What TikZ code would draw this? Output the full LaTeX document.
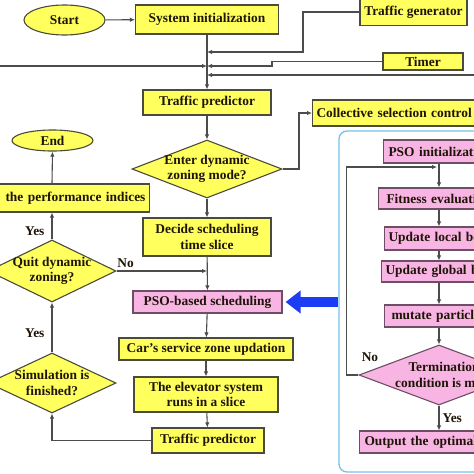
\documentclass[tikz,border=0pt]{standalone}
\usepackage{fontspec}
\setmainfont{Liberation Serif}
\usetikzlibrary{shapes.geometric, arrows.meta, positioning}
\definecolor{boxyellow}{HTML}{FFFF5E}
\definecolor{boxpink}{HTML}{F8B4E2}
\definecolor{boxline}{HTML}{4B4B3C}
\definecolor{pinkline}{HTML}{6E4E64}
\definecolor{panelblue}{HTML}{72C2EC}
\definecolor{arrblue}{HTML}{1F3CF5}
\definecolor{txtdark}{HTML}{1E1408}

\begin{document}
\begin{tikzpicture}[x=1pt,y=1pt,yscale=-1,xscale=1,
  every node/.style={font=\bfseries\fontsize{13.4}{15.5}\selectfont, text=txtdark},
  ybox/.style={draw=boxline, line width=1.1pt, fill=boxyellow, inner sep=0pt, align=center},
  pbox/.style={draw=pinkline, line width=1.1pt, fill=boxpink, inner sep=0pt, anchor=west, text width=200pt, align=left},
  yoval/.style={ellipse, draw=boxline, line width=1.1pt, fill=boxyellow, inner sep=0pt},
  ydiam/.style={diamond, draw=boxline, line width=1.1pt, fill=boxyellow, inner sep=0pt},
  pdiam/.style={diamond, draw=pinkline, line width=1.1pt, fill=boxpink, inner sep=0pt},
  arr/.style={draw=black!70, line width=1.1pt, -{Latex[length=5pt,width=4.5pt]}},
  lbl/.style={inner sep=1pt}]
\useasboundingbox (0,0) rectangle (474,474);
\clip (0,0) rectangle (474,474);

%Shape: Rounded panel of the PSO loop
\node [draw=panelblue, line width=1.3pt, rounded corners=8pt, fill=white, minimum width=180pt, minimum height=341pt, inner sep=0pt] (panel) at (429,301.5) {};

%Shape: Ellipse
\node [yoval, minimum width=81pt, minimum height=30pt] (start) at (64.5,20) {Start};
%Shape: Rectangle
\node [ybox, minimum width=143pt, minimum height=29pt] (sysinit) at (207,19.5) {System initialization};
\node [ybox, minimum width=107pt, minimum height=27pt] (trafgen) at (413.5,12) {Traffic generator};
\node [ybox, minimum width=80pt, minimum height=17pt] (timer) at (423,61.5) {Timer};
\node [ybox, minimum width=128pt, minimum height=25pt] (predict) at (207,102.5) {Traffic predictor};
\node [ybox, anchor=west, text width=200pt, align=left, inner xsep=4pt, minimum height=26pt] (collect) at (312,113) {Collective selection control};
%Shape: Diamond
\node [ydiam, minimum width=150pt, minimum height=58pt] (enter) at (207,169) {};
\node [lbl, align=center] (enter-t) at (enter) {Enter dynamic\\zoning mode?};
\node [ybox, minimum width=128pt, minimum height=38pt] (decide) at (207,237) {Decide scheduling\\time slice};
\node [ybox, fill=boxpink, draw=pinkline, minimum width=149pt, minimum height=22pt] (psosched) at (207.5,302) {PSO-based scheduling};
\node [ybox, minimum width=174pt, minimum height=22pt] (carzone) at (206,349) {Car's service zone updation};
\node [ybox, minimum width=144pt, minimum height=35pt] (elevator) at (206,394.5) {The elevator system\\runs in a slice};
\node [ybox, minimum width=112pt, minimum height=25pt] (predict2) at (208,440.5) {Traffic predictor};

%Left column
\node [yoval, minimum width=81pt, minimum height=21pt] (end) at (52.5,140.5) {End};
\node [ybox, anchor=east, text width=170pt, align=right, inner xsep=4pt, minimum height=28pt] (perf) at (150,198) {the performance indices};
\node [ydiam, minimum width=128pt, minimum height=62pt] (quit) at (52,271) {};
\node [lbl, align=center] (quit-t) at (quit) {Quit dynamic\\zoning?};
\node [ydiam, minimum width=128pt, minimum height=60pt] (simdone) at (52,383) {};
\node [lbl, align=center] (simdone-t) at (simdone) {Simulation is\\finished?};

%PSO loop
\node [pbox, inner xsep=5pt, minimum height=23pt] (psoinit) at (383,151.5) {PSO initialization};
\node [pbox, inner xsep=8pt, minimum height=21pt] (fitness) at (378,198.5) {Fitness evaluation};
\node [pbox, inner xsep=4pt, minimum height=23pt] (localbest) at (384,238.5) {Update local best};
\node [pbox, inner xsep=4pt, minimum height=21pt] (globalbest) at (381,271.5) {Update global best};
\node [pbox, inner xsep=7pt, minimum height=22pt] (mutate) at (384,316) {mutate particles};
\node [pdiam, minimum width=160pt, minimum height=60pt] (term) at (439,375) {};
\node [lbl, align=center] (term-t) at ([xshift=5pt]term.center) {Termination\\condition is met?};
\node [pbox, inner xsep=5pt, minimum height=22pt] (output) at (359,442) {Output the optimal solution};

%Junctions on the main line
\coordinate (join1) at (207,52);
\coordinate (join2) at (207,66);
\coordinate (join3) at (207,75);
\coordinate (fromleft) at (-6,66);
\coordinate (fromright) at (480,75);
\coordinate (psoaxis) at (439,0);
\coordinate (loopin) at (437,167);

%Straight Lines
\draw [arr] (start) -- (sysinit);
\draw [arr] (sysinit) -- (predict);
\draw [arr] (trafgen.west) -| (303,52) -- (join1);
\draw [arr] (timer.west) -| (272,66) -- (join2);
\draw [arr] (fromleft) -- (join2);
\draw [arr] (fromright) -- (join3);
\draw [arr] (predict) -- (enter);
\draw [arr] (enter.east) -- (299,169) |- (collect.west);
\draw [arr] (enter) -- (decide);
\draw [arr] (decide) -- (psosched);
\draw [arr] (psosched) -- (carzone);
\draw [arr] (carzone) -- (elevator);
\draw [arr] (elevator) -- (predict2);
\draw [arr] (predict2.west) -| (simdone.south);
\draw [arr] (simdone.north) -- (quit.south) node [lbl, pos=0.38, left=6pt] (yes1) {Yes};
\draw [arr] (quit.north) -- (quit.north |- perf.south) node [lbl, pos=0.3, left=6pt] (yes2) {Yes};
\draw [arr] (quit.north |- perf.north) -- (end.south);
\draw [arr] (quit.east) -- (quit.east -| decide.south) node [lbl, pos=0.1, above=2pt] (no1) {No};

%PSO arrows
\draw [arr] (psoaxis |- psoinit.south) -- (psoaxis |- fitness.north);
\draw [arr] (psoaxis |- fitness.south) -- (psoaxis |- localbest.north);
\draw [arr] (psoaxis |- localbest.south) -- (psoaxis |- globalbest.north);
\draw [arr] (psoaxis |- globalbest.south) -- (psoaxis |- mutate.north);
\draw [arr] (psoaxis |- mutate.south) -- (term.north);
\draw [arr] (term.south) -- (psoaxis |- output.north) node [lbl, midway, right=2pt] (yes3) {Yes};
\draw [arr] (term.west) -- ++(-12,0) |- (loopin);
\node [lbl] (no2) at (370,357) {No};

%Big blue arrow
\draw [draw=arrblue, line width=10pt, -{Triangle[length=15pt,width=22pt]}] (panel.west |- psosched.east) -- ([xshift=3pt]psosched.east);

\end{tikzpicture}
\end{document}
